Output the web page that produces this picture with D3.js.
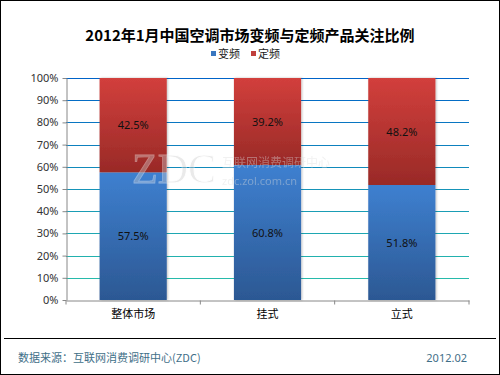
<!DOCTYPE html>
<html><head><meta charset="utf-8">
<script src="https://cdn.jsdelivr.net/npm/d3@7"></script>
<style>body{margin:0;background:#fff}svg{display:block}</style>
</head><body>
<svg id="c" width="500" height="375"></svg>
<script>
const categories = ["整体市场", "挂式", "立式"];
const seriesNames = ["变频", "定频"];
const inverter = [57.5, 60.8, 51.8];
const fixedFreq = [42.5, 39.2, 48.2];
const yTicks = [0, 10, 20, 30, 40, 50, 60, 70, 80, 90, 100];

const svg = d3.select("#c");
const W = 500, H = 375;
const m = {l: 66, r: 31, t: 78, b: 75};
const x = d3.scaleBand().domain(categories).range([m.l, W - m.r]).paddingInner(0.5).paddingOuter(0.25);
const y = d3.scaleLinear().domain([0, 100]).range([H - m.b, m.t]);
const font = "'Noto Sans', 'Noto Sans CJK SC', sans-serif";
const cjk = "'Noto Sans CJK SC', sans-serif";

svg.append("rect").attr("x", 0.5).attr("y", 0.5).attr("width", W - 1).attr("height", H - 1)
  .attr("fill", "#fff").attr("stroke", "#000");

const defs = svg.append("defs");
const gb = defs.append("linearGradient").attr("id", "gb").attr("x1", 0).attr("y1", 0).attr("x2", 0).attr("y2", 1);
gb.append("stop").attr("offset", 0).attr("stop-color", "#3e80d0");
gb.append("stop").attr("offset", 1).attr("stop-color", "#2c5893");
const gr = defs.append("linearGradient").attr("id", "gr").attr("x1", 0).attr("y1", 0).attr("x2", 0).attr("y2", 1);
gr.append("stop").attr("offset", 0).attr("stop-color", "#d23f3c");
gr.append("stop").attr("offset", 1).attr("stop-color", "#992a27");
const gridColor = d3.scaleLinear().domain([0, 100]).range(["#2bc4a8", "#0063c8"]);
const sh = defs.append("filter").attr("id", "sh").attr("x", -0.1).attr("y", -0.05).attr("width", 1.2).attr("height", 1.1);
sh.append("feGaussianBlur").attr("in", "SourceAlpha").attr("stdDeviation", 1.2);
sh.append("feOffset").attr("dx", 1).attr("dy", 0).attr("result", "b");
sh.append("feFlood").attr("flood-color", "#000").attr("flood-opacity", 0.25);
sh.append("feComposite").attr("in2", "b").attr("operator", "in");
const mg = sh.append("feMerge"); mg.append("feMergeNode"); mg.append("feMergeNode").attr("in", "SourceGraphic");

// title
svg.append("text").attr("x", 250).attr("y", 41).attr("text-anchor", "middle")
  .attr("font-family", cjk).attr("font-size", 15).attr("font-weight", "bold").attr("fill", "#000")
  .text("2012年1月中国空调市场变频与定频产品关注比例");

// legend
const lg = svg.append("g").attr("font-family", cjk).attr("font-size", 11).attr("fill", "#222");
[["#3a77c0", seriesNames[0], 211], ["#c0403c", seriesNames[1], 251]].forEach(([c, t, lx]) => {
  lg.append("rect").attr("x", lx).attr("y", 51).attr("width", 5).attr("height", 5).attr("fill", c);
  lg.append("text").attr("x", lx + 7).attr("y", 58).text(t);
});

// grid
svg.append("g").selectAll("line").data(yTicks.filter(d => d > 0)).join("line")
  .attr("x1", m.l).attr("x2", W - m.r).attr("y1", d => Math.round(y(d)) + 0.5).attr("y2", d => Math.round(y(d)) + 0.5)
  .attr("stroke", d => gridColor(d)).attr("stroke-width", 1);

// y axis
const ya = svg.append("g").attr("transform", `translate(${m.l + 0.5},0)`)
  .call(d3.axisLeft(y).tickValues(yTicks).tickFormat(d => d + "%").tickSize(4).tickSizeOuter(0));
ya.select(".domain").attr("stroke", "#888");
ya.selectAll(".tick line").attr("stroke", "#888");
ya.selectAll("text").attr("font-family", font).attr("font-size", 11).attr("fill", "#333").attr("dx", -1);

// x axis
const xa = svg.append("g").attr("transform", `translate(0,${H - m.b + 0.5})`)
  .call(d3.axisBottom(x).tickSize(0).tickSizeOuter(0));
xa.select(".domain").attr("stroke", "#888");
xa.selectAll("text").attr("font-family", cjk).attr("font-size", 11).attr("fill", "#000").attr("dy", "1.3em");
const step = x.step();
xa.selectAll(".sep").data(d3.range(categories.length + 1)).join("line")
  .attr("x1", i => m.l + i * step).attr("x2", i => m.l + i * step).attr("y1", 0).attr("y2", 4).attr("stroke", "#888");

// bars
const bars = svg.append("g");
categories.forEach((c, i) => {
  const g = bars.append("g").attr("filter", "url(#sh)");
  g.append("rect").attr("x", x(c)).attr("width", x.bandwidth()).attr("y", y(inverter[i])).attr("height", y(0) - y(inverter[i])).attr("fill", "url(#gb)");
  g.append("rect").attr("x", x(c)).attr("width", x.bandwidth()).attr("y", y(100)).attr("height", y(inverter[i]) - y(100)).attr("fill", "url(#gr)");
  bars.append("text").attr("x", x(c) + x.bandwidth() / 2).attr("y", y(inverter[i] / 2) + 4).attr("text-anchor", "middle")
    .attr("font-family", font).attr("font-size", 11).attr("fill", "#111").text(inverter[i].toFixed(1) + "%");
  bars.append("text").attr("x", x(c) + x.bandwidth() / 2).attr("y", y(inverter[i] + fixedFreq[i] / 2) + 4).attr("text-anchor", "middle")
    .attr("font-family", font).attr("font-size", 11).attr("fill", "#111").text(fixedFreq[i].toFixed(1) + "%");
});

// watermark
const wm = svg.append("g").attr("opacity", 0.4);
wm.append("text").attr("x", 132).attr("y", 183).attr("font-family", "'Liberation Serif', serif").attr("font-size", 42)
  .attr("fill", "#ccc").attr("stroke", "#fff").attr("stroke-width", 0.8).text("ZDC");
wm.append("text").attr("x", 222).attr("y", 167).attr("font-family", cjk).attr("font-size", 12).attr("fill", "#ddd").text("互联网消费调研中心");
wm.append("text").attr("x", 222).attr("y", 185).attr("font-family", font).attr("font-size", 11).attr("fill", "#ddd").text("zdc.zol.com.cn");

// footer
svg.append("line").attr("x1", 4).attr("x2", 496).attr("y1", 338.5).attr("y2", 338.5).attr("stroke", "#000");
svg.append("text").attr("x", 18).attr("y", 362).attr("font-family", cjk).attr("font-size", 11).attr("fill", "#3f6f88")
  .text("数据来源：互联网消费调研中心(ZDC)");
svg.append("text").attr("x", 467).attr("y", 362).attr("text-anchor", "end").attr("font-family", font).attr("font-size", 11).attr("fill", "#3f6f88")
  .text("2012.02");
</script>
</body></html>
